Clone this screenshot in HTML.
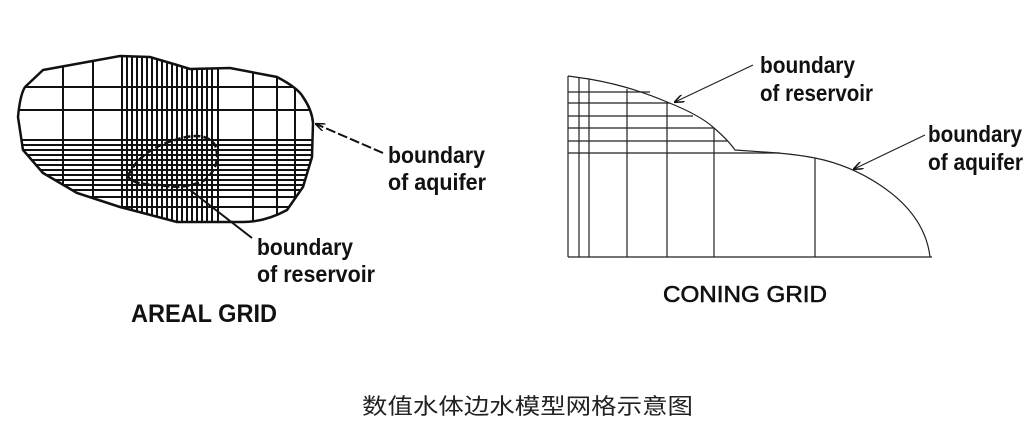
<!DOCTYPE html>
<html><head><meta charset="utf-8"><style>
body{margin:0;background:#fff;width:1035px;height:425px;overflow:hidden}
svg text.l{font-family:"Liberation Sans",sans-serif;font-weight:bold;fill:#111}
</style></head><body>
<svg width="1035" height="425" viewBox="0 0 1035 425" xmlns="http://www.w3.org/2000/svg">
<defs>
<clipPath id="blob"><path id="bp" d="M43,70 L120,56 L150,57 L177,65 L190,69 L230,68 L277,77 Q298,88 303,97 Q312,110 313,123 L312,157 L303,187 L287,210 Q265,222 243,222 L177,222 L120,207 L77,193 L43,173 L23,150 L18,117 Q20,95 25,87 Z"/></clipPath>
<marker id="ah" markerWidth="10" markerHeight="8" refX="9" refY="4" orient="auto" markerUnits="userSpaceOnUse"><path d="M0,0 L10,4 L0,8" fill="none" stroke="#111" stroke-width="1.5"/></marker>
</defs>
<g clip-path="url(#blob)" stroke="#111" stroke-width="2">
<line x1="63" y1="0" x2="63" y2="300"/><line x1="93" y1="0" x2="93" y2="300"/>
<line x1="122" y1="0" x2="122" y2="300"/><line x1="127" y1="0" x2="127" y2="300"/>
<line x1="132" y1="0" x2="132" y2="300"/><line x1="137" y1="0" x2="137" y2="300"/>
<line x1="142" y1="0" x2="142" y2="300"/><line x1="147" y1="0" x2="147" y2="300"/>
<line x1="152" y1="0" x2="152" y2="300"/><line x1="157" y1="0" x2="157" y2="300"/>
<line x1="162" y1="0" x2="162" y2="300"/><line x1="167" y1="0" x2="167" y2="300"/>
<line x1="172" y1="0" x2="172" y2="300"/><line x1="177" y1="0" x2="177" y2="300"/>
<line x1="182" y1="0" x2="182" y2="300"/><line x1="187" y1="0" x2="187" y2="300"/>
<line x1="192" y1="0" x2="192" y2="300"/><line x1="197" y1="0" x2="197" y2="300"/>
<line x1="202" y1="0" x2="202" y2="300"/><line x1="207" y1="0" x2="207" y2="300"/>
<line x1="212" y1="0" x2="212" y2="300"/><line x1="218" y1="0" x2="218" y2="300"/>
<line x1="253" y1="0" x2="253" y2="300"/><line x1="277" y1="0" x2="277" y2="300"/>
<line x1="295" y1="0" x2="295" y2="300"/>
<line x1="0" y1="87" x2="400" y2="87"/><line x1="0" y1="110" x2="400" y2="110"/>
<line x1="0" y1="140" x2="400" y2="140"/><line x1="0" y1="145" x2="400" y2="145"/>
<line x1="0" y1="150" x2="400" y2="150"/><line x1="0" y1="155" x2="400" y2="155"/>
<line x1="0" y1="160" x2="400" y2="160"/><line x1="0" y1="165" x2="400" y2="165"/>
<line x1="0" y1="170" x2="400" y2="170"/><line x1="0" y1="175" x2="400" y2="175"/>
<line x1="0" y1="180" x2="400" y2="180"/><line x1="0" y1="185" x2="400" y2="185"/>
<line x1="0" y1="190" x2="400" y2="190"/><line x1="0" y1="197" x2="400" y2="197"/>
<line x1="0" y1="207" x2="400" y2="207"/>
</g>
<use href="#bp" fill="none" stroke="#111" stroke-width="2.5"/>
<path d="M128,176 Q140,150 175,140 Q205,130 215,145 Q222,165 205,180 Q185,190 160,185 Q132,185 128,176 Z" fill="none" stroke="#111" stroke-width="2.5" stroke-dasharray="7 3"/>
<line x1="383" y1="153" x2="316" y2="124" stroke="#111" stroke-width="2" stroke-dasharray="10 3" marker-end="url(#ah)"/>
<line x1="252" y1="238" x2="190" y2="190" stroke="#111" stroke-width="2"/>
<text class="l" x="388" y="163" font-size="23" textLength="97" lengthAdjust="spacingAndGlyphs">boundary</text>
<text class="l" x="388" y="190" font-size="23" textLength="98" lengthAdjust="spacingAndGlyphs">of aquifer</text>
<text class="l" x="257" y="255" font-size="23" textLength="96" lengthAdjust="spacingAndGlyphs">boundary</text>
<text class="l" x="257" y="282" font-size="23" textLength="118" lengthAdjust="spacingAndGlyphs">of reservoir</text>
<text class="l" x="131" y="322" font-size="25" textLength="146" lengthAdjust="spacingAndGlyphs">AREAL GRID</text>

<g stroke="#222" stroke-width="1.2" fill="none">
<line x1="568" y1="76" x2="568" y2="257"/>
<line x1="579" y1="77" x2="579" y2="257"/><line x1="589" y1="79" x2="589" y2="257"/>
<line x1="627" y1="89" x2="627" y2="257"/><line x1="667" y1="102" x2="667" y2="257"/>
<line x1="714" y1="128" x2="714" y2="257"/><line x1="815" y1="158" x2="815" y2="257"/>
<line x1="568" y1="92" x2="650" y2="92"/><line x1="568" y1="103" x2="670" y2="103"/>
<line x1="568" y1="116" x2="693" y2="116"/><line x1="568" y1="128" x2="714" y2="128"/>
<line x1="568" y1="141" x2="727" y2="141"/><line x1="568" y1="153" x2="780" y2="153"/>
<line x1="568" y1="257" x2="932" y2="257"/>
<path d="M568,76 L589,79 Q630,86 667,102 Q700,115 714,128 Q728,140 735,150 L778,153 Q800,155 815,158 Q850,165 880,185 Q925,215 930,257"/>
<line x1="753" y1="65" x2="675" y2="102" marker-end="url(#ah)"/>
<line x1="925" y1="135" x2="854" y2="169" marker-end="url(#ah)"/>
</g>
<text class="l" x="760" y="73" font-size="23" textLength="95" lengthAdjust="spacingAndGlyphs">boundary</text>
<text class="l" x="760" y="101" font-size="23" textLength="113" lengthAdjust="spacingAndGlyphs">of reservoir</text>
<text class="l" x="928" y="142" font-size="23" textLength="94" lengthAdjust="spacingAndGlyphs">boundary</text>
<text class="l" x="928" y="170" font-size="23" textLength="95" lengthAdjust="spacingAndGlyphs">of aquifer</text>
<text class="l" x="663" y="302" font-size="23" textLength="164" lengthAdjust="spacingAndGlyphs" style="font-weight:normal;stroke:#111;stroke-width:0.6">CONING GRID</text>
<text x="362" y="414" font-size="22" textLength="331" lengthAdjust="spacingAndGlyphs" fill="#222" style="font-family:'Liberation Sans','Noto Sans CJK SC',sans-serif">数值水体边水模型网格示意图</text>
</svg>
</body></html>
